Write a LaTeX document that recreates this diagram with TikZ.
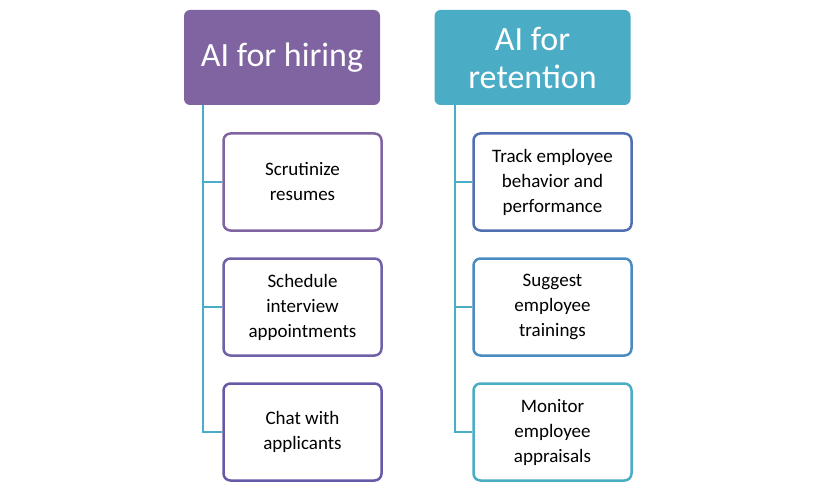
\documentclass[tikz,border=0pt]{standalone}
\usepackage{fontspec}
\setmainfont{Carlito}
\begin{document}
\begin{tikzpicture}[x=1pt,y=-1pt,
  head/.style={rounded corners=6pt,minimum width=196pt,minimum height=95pt,text=white,font=\fontsize{34}{38}\selectfont,align=center,inner sep=0pt},
  child/.style={draw,line width=2.5pt,rounded corners=7pt,fill=white,minimum width=158pt,minimum height=97pt,font=\fontsize{19}{25}\selectfont,align=center,inner sep=0pt,text=black},
  conn/.style={draw=cyan!60!blue!70,line width=2.5pt,color={rgb,255:red,75;green,172;blue,198}}]
\useasboundingbox (0,0) rectangle (814,484);
\definecolor{hp}{RGB}{128,100,162}
\definecolor{ht}{RGB}{75,172,198}
\node[head,fill=hp] (h1) at (282,57.5) {AI for hiring};
\node[head,fill=ht] (h2) at (532.5,57.5) {AI for\\retention};
\node[child,draw={rgb,255:red,128;green,100;blue,162}] (a1) at (302.5,182) {Scrutinize\\resumes};
\node[child,draw={rgb,255:red,112;green,96;blue,168}] (a2) at (302.5,307) {Schedule\\interview\\appointments};
\node[child,draw={rgb,255:red,100;green,90;blue,170}] (a3) at (302.5,432) {Chat with\\applicants};
\node[child,draw={rgb,255:red,79;green,111;blue,176}] (b1) at (552.5,182) {Track employee\\behavior and\\performance};
\node[child,draw={rgb,255:red,75;green,140;blue,192}] (b2) at (552.5,307) {Suggest\\employee\\trainings};
\node[child,draw={rgb,255:red,75;green,172;blue,198}] (b3) at (552.5,432) {Monitor\\employee\\appraisals};
\coordinate (c1) at (203,105);
\coordinate (c2) at (455,105);
\draw[conn,line join=miter] (c1) |- (a3.west);
\draw[conn] (c1 |- a1) -- (a1.west);
\draw[conn] (c1 |- a2) -- (a2.west);
\draw[conn,line join=miter] (c2) |- (b3.west);
\draw[conn] (c2 |- b1) -- (b1.west);
\draw[conn] (c2 |- b2) -- (b2.west);
\end{tikzpicture}
\end{document}
